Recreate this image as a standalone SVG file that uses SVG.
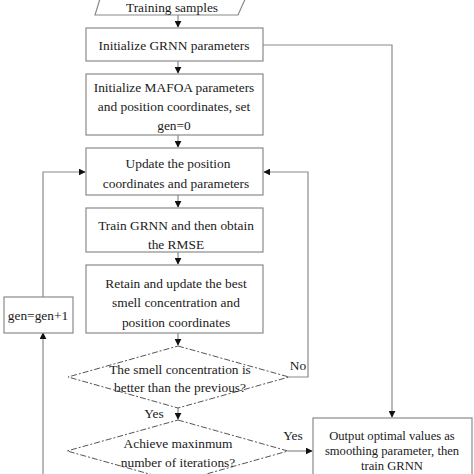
<svg xmlns="http://www.w3.org/2000/svg" width="474" height="474" viewBox="0 0 474 474">
<style>
.box{fill:#fff;stroke:#8a8a8a;stroke-width:1.2}
.dia{fill:#fff;stroke:#555;stroke-width:1;stroke-dasharray:6 2 2 2}
.t{font-family:"Liberation Serif","Times New Roman",serif;font-size:13.4px;fill:#1a1a1a;text-anchor:middle}
.s{font-size:12.6px}
.c{fill:none;stroke:#8a8a8a;stroke-width:1.2}
</style>
<defs>
<marker id="ah" viewBox="0 0 10 10" refX="9" refY="5" markerWidth="7" markerHeight="7" markerUnits="userSpaceOnUse" orient="auto">
<path d="M0,0 L10,5 L0,10 z" fill="#111"/>
</marker>
</defs>
<rect width="474" height="474" fill="#fff"/>
<g id="connectors">
<line class="c" x1="178" y1="15" x2="178" y2="27" marker-end="url(#ah)"/>
<line class="c" x1="178" y1="61" x2="178" y2="73" marker-end="url(#ah)"/>
<line class="c" x1="178" y1="135" x2="178" y2="147" marker-end="url(#ah)"/>
<line class="c" x1="178" y1="195" x2="178" y2="207" marker-end="url(#ah)"/>
<line class="c" x1="178" y1="252" x2="178" y2="264" marker-end="url(#ah)"/>
<line class="c" x1="178" y1="333" x2="178" y2="345" marker-end="url(#ah)"/>
<line class="c" x1="178" y1="408" x2="178" y2="419" marker-end="url(#ah)"/>
<polyline class="c" points="263,45 392,45 392,417" marker-end="url(#ah)"/>
<polyline class="c" points="288,377 308,377 308,172 264,172" marker-end="url(#ah)"/>
<line class="c" x1="288" y1="451" x2="312" y2="451" marker-end="url(#ah)"/>
<line class="c" x1="43" y1="474" x2="43" y2="333" marker-end="url(#ah)"/>
<polyline class="c" points="43,297 43,172 85,172" marker-end="url(#ah)"/>
</g>
<g id="n0">
<polygon class="box" points="104,-14 251,-14 238,15 95,15"/>
<text class="t" x="172" y="11.5">Training samples</text>
</g>
<g id="n1">
<rect class="box" x="86" y="28" width="177" height="33"/>
<text class="t" x="174" y="50">Initialize GRNN parameters</text>
</g>
<g id="n2">
<rect class="box" x="86" y="74" width="177" height="61"/>
<text class="t" x="174" y="92">Initialize MAFOA parameters</text>
<text class="t" x="174" y="111">and position coordinates, set</text>
<text class="t" x="174" y="130">gen=0</text>
</g>
<g id="n3">
<rect class="box" x="86" y="148" width="177" height="47"/>
<text class="t" x="178" y="168">Update the position</text>
<text class="t" x="176" y="188">coordinates and parameters</text>
</g>
<g id="n4">
<rect class="box" x="86" y="208" width="177" height="44"/>
<text class="t" x="176" y="230">Train GRNN and then obtain</text>
<text class="t" x="176" y="249">the RMSE</text>
</g>
<g id="n5">
<rect class="box" x="86" y="265" width="177" height="68"/>
<text class="t" x="176" y="288">Retain and update the best</text>
<text class="t" x="176" y="307">smell concentration and</text>
<text class="t" x="176" y="327">position coordinates</text>
</g>
<g id="n6">
<rect class="box" x="4" y="297" width="69" height="36"/>
<text class="t" x="38" y="320">gen=gen+1</text>
</g>
<g id="n7">
<polygon class="dia" points="178,346 289,377 178,408 68,377"/>
<text class="t" x="180" y="374">The smell concentration is</text>
<text class="t" x="180" y="392">better than the previous?</text>
<text class="t" x="298" y="370">No</text>
<text class="t" x="154" y="418">Yes</text>
</g>
<g id="n8">
<polygon class="dia" points="178,420 288,451 178,482 67,451"/>
<text class="t" x="178" y="448">Achieve maxinmum</text>
<text class="t" x="178" y="467">number of iterations?</text>
<text class="t" x="293" y="440">Yes</text>
</g>
<g id="n9">
<rect class="box" x="313" y="418" width="159" height="70"/>
<text class="t s" x="392" y="440">Output optimal values as</text>
<text class="t s" x="392" y="455">smoothing parameter, then</text>
<text class="t s" x="392" y="469.5">train GRNN</text>
</g>
</svg>
